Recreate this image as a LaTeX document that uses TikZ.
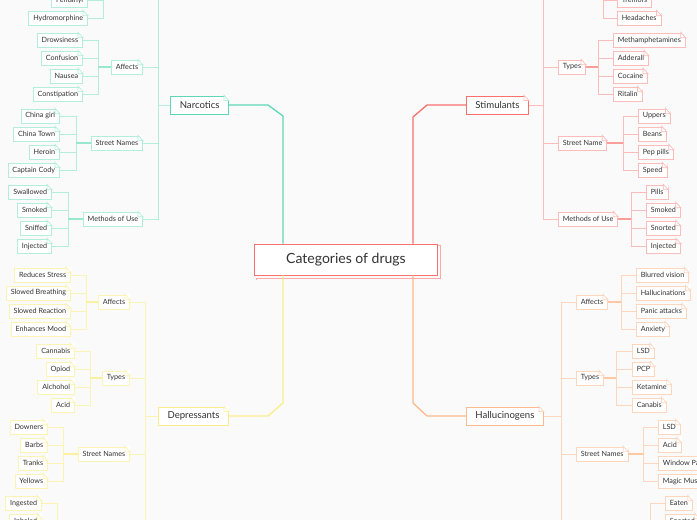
\documentclass[tikz,border=0pt]{standalone}
\usepackage{fontspec}
\setmainfont{Lato}
\definecolor{tD}{RGB}{95,215,180}\definecolor{tL}{RGB}{178,238,218}
\definecolor{rD}{RGB}{248,113,108}\definecolor{rL}{RGB}{252,188,186}
\definecolor{yD}{RGB}{250,238,140}\definecolor{yL}{RGB}{252,244,178}
\definecolor{oD}{RGB}{253,186,140}\definecolor{oL}{RGB}{254,214,190}
\definecolor{txt}{RGB}{50,50,50}
\tikzset{
 leaf/.style={draw=\cl,fill=white,line width=0.7pt,minimum height=14,inner xsep=4.5,inner ysep=0,font=\fontsize{7.2}{8}\selectfont,text=txt},
 brn/.style={leaf},
 cat/.style={draw=\cd,fill=white,line width=0.9pt,minimum height=18,inner xsep=9,font=\fontsize{9.6}{11}\selectfont,text=txt},
 lc/.style={draw=\cl,line width=0.7pt},
 sc/.style={draw=\cd,line width=1.2pt},
 mc/.style={draw=\cd,line width=1.3pt},
}
\newcommand\ear[1]{\fill[white] ([xshift=-5pt]#1.north east) -- ([xshift=0.5pt,yshift=0.5pt]#1.north east) -- ([yshift=-5pt]#1.north east) -- cycle;
 \draw[lc] ([xshift=-5pt,yshift=0.35pt]#1.north east) -- ([xshift=-5pt,yshift=-5pt]#1.north east) -- ([yshift=-5pt]#1.north east) -- cycle;}
\newcommand\lfL[6]{\node[leaf,anchor=east] (#1) at (#2,#3) {#4}; \ear{#1}
 \draw[lc] (#1.east) -- (#1.east -| #5) |- (#6.west);}
\newcommand\lfR[6]{\node[leaf,anchor=west] (#1) at (#2,#3) {#4}; \ear{#1}
 \draw[lc] (#1.west) -- (#1.west -| #5) |- (#6.east);}
\begin{document}
\begin{tikzpicture}[x=1pt,y=-1pt]
\useasboundingbox (0,0) rectangle (697,520);
\fill[white!98!black] (0,0) rectangle (697,520);
\clip (0,0) rectangle (697,520);
% ---------------- main
\node[draw=rD,fill=white,line width=0.9pt,minimum width=183,minimum height=31,font=\fontsize{14}{16}\selectfont,text=txt] (main) at (346,259.5) {Categories of drugs};
\draw[draw=rD!60,line width=0.9pt] (main.north east) ++(0,2) -- ++(2.5,0) |- ([xshift=2.5pt,yshift=-2.5pt]main.south west) -- ++(0,2.5);
\coordinate (mL) at (283,0); \coordinate (mR) at (413,0);
% ================ NARCOTICS
\def\cd{tD}\def\cl{tL}
\node[cat,anchor=east] (narc) at (229,105) {Narcotics}; \ear{narc}
\draw[mc] (narc.east) -- ++(39,0) -- ++(15,11) -- (main.north -| mL);
\coordinate (T1) at (158,0); \coordinate (T1top) at (158,-40);
\node[brn,anchor=east] (naff) at (143,67) {Affects}; \ear{naff}
\node[brn,anchor=east] (nstr) at (143,143) {Street Names}; \ear{nstr}
\node[brn,anchor=east] (nmet) at (143,219) {Methods of Use}; \ear{nmet}
\foreach \b in {naff,nstr,nmet} \draw[lc] (\b.east) -- (\b.east -| T1) |- (narc.west);
\draw[lc] (T1top) |- (narc.west);
\coordinate (nt0) at (103,0);
\node[leaf,anchor=east] (fent) at (88,0) {Fentanyl}; \ear{fent}
\node[leaf,anchor=east] (hydro) at (88,18) {Hydromorphine}; \ear{hydro}
\draw[lc] (fent.east) -- (fent.east -| nt0); \draw[lc] (hydro.east) -- (hydro.east -| nt0) -- ++(0,-40);
\coordinate (na) at (98,0);
\lfL{n1}{83}{40}{Drowsiness}{na}{naff}
\lfL{n2}{83}{58}{Confusion}{na}{naff}
\lfL{n3}{83}{76}{Nausea}{na}{naff}
\lfL{n4}{83}{94}{Constipation}{na}{naff}
\draw[sc,draw=tL!70!tD] (naff.west) -- (naff.west -| na);
\coordinate (ns) at (76,0);
\lfL{n5}{60}{116}{China girl}{ns}{nstr}
\lfL{n6}{60}{134}{China Town}{ns}{nstr}
\lfL{n7}{60}{152}{Heroin}{ns}{nstr}
\lfL{n8}{60}{170}{Captain Cody}{ns}{nstr}
\draw[sc,draw=tL!70!tD] (nstr.west) -- (nstr.west -| ns);
\coordinate (nm) at (68,0);
\lfL{n9}{52}{192}{Swallowed}{nm}{nmet}
\lfL{n10}{52}{210}{Smoked}{nm}{nmet}
\lfL{n11}{52}{228}{Sniffed}{nm}{nmet}
\lfL{n12}{52}{246}{Injected}{nm}{nmet}
\draw[sc,draw=tL!70!tD] (nmet.west) -- (nmet.west -| nm);
% ================ STIMULANTS
\def\cd{rD}\def\cl{rL}
\node[cat,anchor=west] (stim) at (466,105) {Stimulants}; \ear{stim}
\draw[mc] (stim.west) -- ++(-39,0) -- ++(-14,12) -- (main.north -| mR);
\coordinate (T2) at (543,0); \coordinate (T2top) at (543,-40);
\node[brn,anchor=west] (styp) at (558,67) {Types}; \ear{styp}
\node[brn,anchor=west] (sstr) at (558,143) {Street Name}; \ear{sstr}
\node[brn,anchor=west] (smet) at (558,219) {Methods of Use}; \ear{smet}
\foreach \b in {styp,sstr,smet} \draw[lc] (\b.west) -- (\b.west -| T2) |- (stim.east);
\draw[lc] (T2top) |- (stim.east);
\coordinate (st0) at (603,0);
\node[leaf,anchor=west] (trem) at (617,0) {Tremors}; \ear{trem}
\node[leaf,anchor=west] (head) at (617,18) {Headaches}; \ear{head}
\draw[lc] (trem.west) -- (trem.west -| st0); \draw[lc] (head.west) -- (head.west -| st0) -- ++(0,-40);
\coordinate (sa) at (598,0);
\lfR{s1}{613}{40}{Methamphetamines}{sa}{styp}
\lfR{s2}{613}{58}{Adderall}{sa}{styp}
\lfR{s3}{613}{76}{Cocaine}{sa}{styp}
\lfR{s4}{613}{94}{Ritalin}{sa}{styp}
\draw[sc,draw=rL!60!rD] (styp.east) -- (styp.east -| sa);
\coordinate (ss) at (623,0);
\lfR{s5}{638}{116}{Uppers}{ss}{sstr}
\lfR{s6}{638}{134}{Beans}{ss}{sstr}
\lfR{s7}{638}{152}{Pep pills}{ss}{sstr}
\lfR{s8}{638}{170}{Speed}{ss}{sstr}
\draw[sc,draw=rL!60!rD] (sstr.east) -- (sstr.east -| ss);
\coordinate (sm) at (631,0);
\lfR{s9}{646}{192}{Pills}{sm}{smet}
\lfR{s10}{646}{210}{Smoked}{sm}{smet}
\lfR{s11}{646}{228}{Snorted}{sm}{smet}
\lfR{s12}{646}{246}{Injected}{sm}{smet}
\draw[sc,draw=rL!60!rD] (smet.east) -- (smet.east -| sm);
% ================ DEPRESSANTS
\def\cd{yD}\def\cl{yL}
\node[cat,anchor=east] (dep) at (229,416) {Depressants}; \ear{dep}
\draw[mc] (dep.east) -- ++(39,0) -- ++(15,-13) -- (main.south -| mL);
\coordinate (T3) at (145,0); \coordinate (T3bot) at (145,560);
\node[brn,anchor=east] (daff) at (130,302) {Affects}; \ear{daff}
\node[brn,anchor=east] (dtyp) at (130,378) {Types}; \ear{dtyp}
\node[brn,anchor=east] (dstr) at (130,454) {Street Names}; \ear{dstr}
\foreach \b in {daff,dtyp,dstr} \draw[lc] (\b.east) -- (\b.east -| T3) |- (dep.west);
\draw[lc] (T3bot) |- (dep.west);
\coordinate (da) at (86,0);
\lfL{d1}{71}{275}{Reduces Stress}{da}{daff}
\lfL{d2}{71}{293}{Slowed Breathing}{da}{daff}
\lfL{d3}{71}{311}{Slowed Reaction}{da}{daff}
\lfL{d4}{71}{329}{Enhances Mood}{da}{daff}
\draw[sc,draw=yL!50!yD] (daff.west) -- (daff.west -| da);
\coordinate (dt) at (90,0);
\lfL{d5}{75}{351}{Cannabis}{dt}{dtyp}
\lfL{d6}{75}{369}{Opiod}{dt}{dtyp}
\lfL{d7}{75}{387}{Alchohol}{dt}{dtyp}
\lfL{d8}{75}{405}{Acid}{dt}{dtyp}
\draw[sc,draw=yL!50!yD] (dtyp.west) -- (dtyp.west -| dt);
\coordinate (ds) at (63,0);
\lfL{d9}{48}{427}{Downers}{ds}{dstr}
\lfL{d10}{48}{445}{Barbs}{ds}{dstr}
\lfL{d11}{48}{463}{Tranks}{ds}{dstr}
\lfL{d12}{48}{481}{Yellows}{ds}{dstr}
\draw[sc,draw=yL!50!yD] (dstr.west) -- (dstr.west -| ds);
\coordinate (db) at (57,0);
\node[leaf,anchor=east] (ing) at (42,503) {Ingested}; \ear{ing}
\node[leaf,anchor=east] (inh) at (42,521) {Inhaled}; \ear{inh}
\draw[lc] (ing.east) -- (ing.east -| db) -- ++(0,40); \draw[lc] (inh.east) -- (inh.east -| db);
% ================ HALLUCINOGENS
\def\cd{oD}\def\cl{oL}
\node[cat,anchor=west] (hal) at (466,416) {Hallucinogens}; \ear{hal}
\draw[mc] (hal.west) -- ++(-39,0) -- ++(-14,-13) -- (main.south -| mR);
\coordinate (T4) at (561,0); \coordinate (T4bot) at (561,560);
\node[brn,anchor=west] (haff) at (576,302) {Affects}; \ear{haff}
\node[brn,anchor=west] (htyp) at (576,378) {Types}; \ear{htyp}
\node[brn,anchor=west] (hstr) at (576,454) {Street Names}; \ear{hstr}
\foreach \b in {haff,htyp,hstr} \draw[lc] (\b.west) -- (\b.west -| T4) |- (hal.east);
\draw[lc] (T4bot) |- (hal.east);
\coordinate (ha) at (621,0);
\lfR{h1}{636}{275}{Blurred vision}{ha}{haff}
\lfR{h2}{636}{293}{Hallucinations}{ha}{haff}
\lfR{h3}{636}{311}{Panic attacks}{ha}{haff}
\lfR{h4}{636}{329}{Anxiety}{ha}{haff}
\draw[sc,draw=oL!50!oD] (haff.east) -- (haff.east -| ha);
\coordinate (ht) at (616,0);
\lfR{h5}{632}{351}{LSD}{ht}{htyp}
\lfR{h6}{632}{369}{PCP}{ht}{htyp}
\lfR{h7}{632}{387}{Ketamine}{ht}{htyp}
\lfR{h8}{632}{405}{Canabis}{ht}{htyp}
\draw[sc,draw=oL!50!oD] (htyp.east) -- (htyp.east -| ht);
\coordinate (hs) at (643,0);
\lfR{h9}{658}{427}{LSD}{hs}{hstr}
\lfR{h10}{658}{445}{Acid}{hs}{hstr}
\lfR{h11}{658}{463}{Window Pane}{hs}{hstr}
\lfR{h12}{658}{481}{Magic Mushrooms}{hs}{hstr}
\draw[sc,draw=oL!50!oD] (hstr.east) -- (hstr.east -| hs);
\coordinate (hb) at (650,0);
\node[leaf,anchor=west] (eat) at (665,503) {Eaten}; \ear{eat}
\node[leaf,anchor=west] (snt) at (665,521) {Snorted}; \ear{snt}
\draw[lc] (eat.west) -- (eat.west -| hb) -- ++(0,40); \draw[lc] (snt.west) -- (snt.west -| hb);
\end{tikzpicture}
\end{document}
